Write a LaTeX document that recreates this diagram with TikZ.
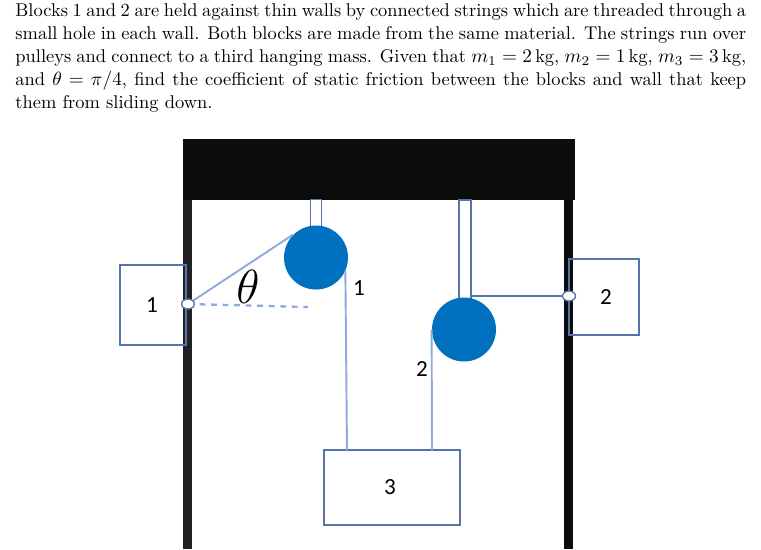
\documentclass[tikz,border=0pt]{standalone}
\usepackage{fontspec}
\usetikzlibrary{shapes.geometric}
\newfontfamily\labelfont{Carlito}
\definecolor{boxblue}{HTML}{5574AC}
\definecolor{stringblue}{HTML}{8FAADC}
\definecolor{pulleyblue}{HTML}{0070C0}
\definecolor{wallblack}{HTML}{0C0C0C}
\definecolor{wallgrey}{HTML}{222222}
\def\pxu{0.52pt}
\tikzset{
  wallpart/.style={fill=wallblack,inner sep=0pt},
  massbox/.style={draw=boxblue,line width=1pt,inner sep=0pt},
  pulleydisc/.style={circle,fill=pulleyblue,inner sep=0pt,minimum size=64*\pxu},
  pulleyrod/.style={draw=boxblue,line width=1pt,fill=white,inner sep=0pt},
  wallhole/.style={ellipse,draw=boxblue,fill=white,line width=.7pt,inner sep=0pt,minimum width=13*\pxu,minimum height=10*\pxu},
  masslabel/.style={font=\labelfont\large,inner sep=0pt},
}
\begin{document}
\begin{tikzpicture}[x=0.52pt,y=-0.52pt]
  \useasboundingbox (0,0) rectangle (761,549);

  \node[anchor=north west,inner sep=0pt,text width=380pt,align=justify,font=\fontsize{9.6}{11.96}\selectfont] (problem) at (15,3) {Blocks 1 and 2 are held against thin walls by connected strings which are threaded through a\linebreak small hole in each wall. Both blocks are made from the same material. The strings run over\linebreak pulleys and connect to a third hanging mass. Given that $m_1=2\,$kg, $m_2=1\,$kg, $m_3=3\,$kg,\linebreak and $\theta=\pi/4$, find the coefficient of static friction between the blocks and wall that keep\linebreak them from sliding down.};

  \begin{scope}[every node/.style={wallpart}]
    \node[minimum width=392*\pxu,minimum height=61*\pxu] (ceiling) at (379,169.5) {};
    \node[fill=wallgrey,minimum width=9*\pxu,minimum height=349*\pxu] (wallleft) at (187.5,374.5) {};
    \node[minimum width=9*\pxu,minimum height=349*\pxu] (wallright) at (568.5,374.5) {};
  \end{scope}

  \node[pulleyrod,minimum width=11*\pxu,minimum height=27*\pxu] (rodone) at (316,213) {};
  \node[pulleyrod,minimum width=12*\pxu,minimum height=100*\pxu] (rodtwo) at (465,250) {};

  \node[massbox,minimum width=66*\pxu,minimum height=80*\pxu] (block1) at (153,305) {};
  \node[massbox,minimum width=70*\pxu,minimum height=76*\pxu] (block2) at (604,297) {};
  \node[massbox,minimum width=136*\pxu,minimum height=75*\pxu] (block3) at (392,487.5) {};

  \node[pulleydisc] (pulley1) at (316,257.5) {};
  \node[pulleydisc] (pulley2) at (464,329.5) {};

  \coordinate (knot1) at (347,450);
  \coordinate (knot2) at (432,450);
  \coordinate (dashend) at (308,307);
  \coordinate (holeone) at (188,304);
  \coordinate (holetwo) at (569,296);

  \begin{scope}[every edge/.style={draw=stringblue,line width=1pt}]
    \path (holeone) edge (pulley1.135);
    \path (pulley1.-25) edge (knot1);
    \path (pulley2.180) edge (knot2);
    \path (holeone) edge[dashed,line width=1.2pt] (dashend);
  \end{scope}
  \path (holetwo) edge[draw=boxblue,line width=1pt] (rodtwo.east |- holetwo);

  \node[wallhole] (hole1) at (holeone) {};
  \node[wallhole] (hole2) at (holetwo) {};

  \begin{scope}[every node/.style={masslabel}]
    \node (name1) at (152,305) {1};
    \node (name2) at (606,297) {2};
    \node (name3) at (390,487) {3};
    \node (label1) at (359,288) {1};
    \node (label2) at (422,369) {2};
  \end{scope}
  \node[font=\fontsize{23}{23}\selectfont,inner sep=0pt] (angle) at (248,287) {$\theta$};

\end{tikzpicture}
\end{document}
